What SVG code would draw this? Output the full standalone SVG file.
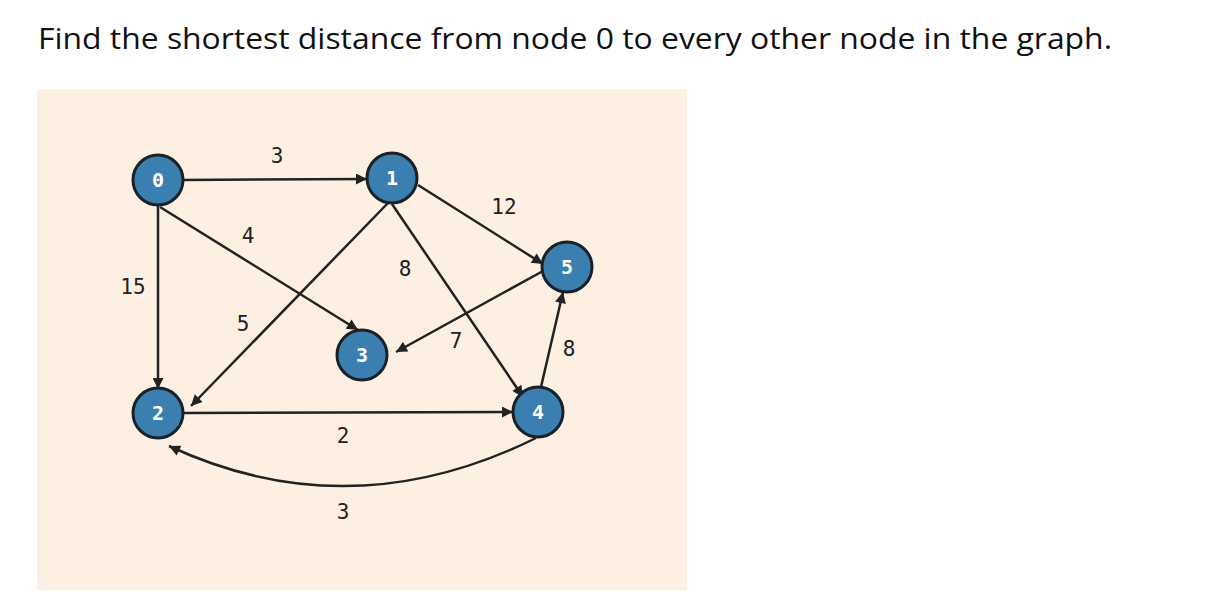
<svg xmlns="http://www.w3.org/2000/svg" width="1207" height="615" viewBox="0 0 1207 615">
<style>
.title{font-family:"Open Sans","Liberation Sans",sans-serif;font-size:30px;fill:#111}
.node circle{fill:#3a7fb0;stroke:#1a2129;stroke-width:3}
.node text{font-family:"DejaVu Sans Mono","Liberation Mono",monospace;font-size:20px;font-weight:bold;fill:#fff;text-anchor:middle}
.edge{stroke:#222;stroke-width:2.5;fill:none;marker-end:url(#ah)}
.lbl{font-family:"DejaVu Sans Mono","Liberation Mono",monospace;font-size:21px;fill:#222;text-anchor:middle}
</style>
<defs><marker id="ah" viewBox="0 0 10 10" refX="10" refY="5" markerWidth="13" markerHeight="11" orient="auto" markerUnits="userSpaceOnUse"><path d="M0,0 L10,5 L0,10 z" fill="#222"/></marker></defs>
<rect width="1207" height="615" fill="#fff"/>
<text class="title" x="38" y="49" textLength="1074" lengthAdjust="spacingAndGlyphs">Find the shortest distance from node 0 to every other node in the graph.</text>
<rect x="37" y="89" width="650" height="501" fill="#fdf0e3"/>
<g id="connectors">
<path class="edge" d="M182,180 L367,179"/>
<path class="edge" d="M158,204 L158,389"/>
<path class="edge" d="M160,207 L358,330"/>
<path class="edge" d="M388,203 L191,406"/>
<path class="edge" d="M418,185 L543,264"/>
<path class="edge" d="M392,204 L523,397"/>
<path class="edge" d="M543,271 L396,352"/>
<path class="edge" d="M182,413 L513,412"/>
<path class="edge" d="M541,387 L563,292"/>
<path class="edge" d="M536,438 Q350,530 169,446"/>
<text class="lbl" x="277" y="163">3</text>
<text class="lbl" x="504" y="214">12</text>
<text class="lbl" x="248" y="243">4</text>
<text class="lbl" x="405" y="276">8</text>
<text class="lbl" x="133" y="294">15</text>
<text class="lbl" x="243" y="331">5</text>
<text class="lbl" x="456" y="348">7</text>
<text class="lbl" x="569" y="356">8</text>
<text class="lbl" x="343" y="443">2</text>
<text class="lbl" x="343" y="519">3</text>
</g>
<g id="n0" class="node"><circle cx="158" cy="180" r="25"/><text x="158" y="187">0</text></g>
<g id="n1" class="node"><circle cx="392" cy="178" r="25"/><text x="392" y="185">1</text></g>
<g id="n2" class="node"><circle cx="158" cy="413" r="25"/><text x="158" y="420">2</text></g>
<g id="n3" class="node"><circle cx="362" cy="355" r="25"/><text x="362" y="362">3</text></g>
<g id="n4" class="node"><circle cx="538" cy="412" r="25"/><text x="538" y="419">4</text></g>
<g id="n5" class="node"><circle cx="567" cy="267" r="25"/><text x="567" y="274">5</text></g>
</svg>
